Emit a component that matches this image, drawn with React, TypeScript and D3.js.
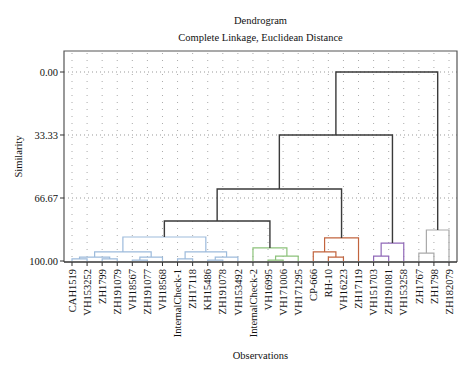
import React from "react";
import * as d3 from "d3";

const leaves = [
  "CAH1519", "VH153252", "ZH1799", "ZH191079", "VH18567", "ZH191077", "VH18568",
  "InternalCheck-1", "ZH17118", "KH15486", "ZH191078", "VH153492", "InternalCheck-2",
  "VH16995", "VH171006", "VH171295", "CP-666", "RH-10", "VH16223", "ZH17119",
  "VH151703", "ZH191081", "VH153258", "ZH1767", "ZH1798", "ZH182079",
];

// linkage: merge k creates node (leaves.length + k)
const linkLeft = [0, 2, 26, 4, 29, 28, 7, 9, 33, 32, 31, 13, 37, 12, 17, 16, 41, 20, 43, 23, 45, 36, 47, 48, 49];
const linkRight = [1, 3, 27, 5, 6, 30, 8, 10, 11, 34, 35, 14, 15, 38, 18, 40, 19, 21, 22, 24, 25, 39, 42, 44, 46];
const linkSimilarity = [98.9, 98.9, 97.9, 99.5, 97.9, 95.2, 98.9, 99.5, 97.9, 95.2, 87.3, 99.5, 97.4, 93.1, 97.9, 95.2, 87.8, 97.4, 90.5, 95.8, 83.6, 78.8, 61.9, 33.3, 0];
// cluster id of each merge (-1 = above cut)
const linkCluster = [0, 0, 0, 0, 0, 0, 0, 0, 0, 0, 0, 1, 1, 1, 2, 2, 2, 3, 3, 4, 4, -1, -1, -1, -1];

const yTicks = [0, 33.33, 66.67, 100];

const clusterColors = ["#9dbbdc", "#8cc27a", "#c2643e", "#9068b8", "#a9a9a9"];
const aboveColor = "#3a3a3a";

export default function App() {
  const W = 474, H = 375;
  const left = 64, right = 457, top = 51;
  const x = d3.scalePoint<number>().domain(leaves.map((_, i) => i)).range([72, 449]);
  const y = d3.scaleLinear().domain([0, 100]).range([72, 261]);
  const bottom = y(100) + 1;
  const n = leaves.length;

  const nodeX: number[] = leaves.map((_, i) => x(i) as number);
  const nodeH: number[] = leaves.map(() => 100);
  linkLeft.forEach((l, k) => {
    nodeX[n + k] = (nodeX[l] + nodeX[linkRight[k]]) / 2;
    nodeH[n + k] = linkSimilarity[k];
  });

  const paths = linkLeft.map((l, k) => {
    const r = linkRight[k];
    const p = d3.path();
    p.moveTo(nodeX[l], y(nodeH[l]));
    p.lineTo(nodeX[l], y(linkSimilarity[k]));
    p.lineTo(nodeX[r], y(linkSimilarity[k]));
    p.lineTo(nodeX[r], y(nodeH[r]));
    const c = linkCluster[k];
    return (
      <path
        key={k}
        d={p.toString()}
        fill="none"
        stroke={c < 0 ? aboveColor : clusterColors[c]}
        strokeWidth={c < 0 ? 1.4 : 1.2}
      />
    );
  });

  const font = "'Liberation Serif', 'DejaVu Serif', serif";
  const ink = "#111";

  return (
    <svg width={W} height={H} style={{ position: "absolute", left: 0, top: 0, background: "#fff" }} fontFamily={font}>
      <text x={260.5} y={24} textAnchor="middle" fontSize={10.5} fill={ink}>Dendrogram</text>
      <text x={260.5} y={41} textAnchor="middle" fontSize={10.5} fill={ink}>Complete Linkage, Euclidean Distance</text>

      {/* grid */}
      {leaves.map((_, i) => (
        <line key={"gv" + i} x1={x(i)} x2={x(i)} y1={top + 2} y2={bottom} stroke="#aaa" strokeWidth={1} strokeDasharray="1,6" />
      ))}
      {yTicks.slice(0, 3).map((t) => (
        <line key={"gh" + t} x1={left} x2={right} y1={y(t)} y2={y(t)} stroke="#999" strokeWidth={1} strokeDasharray="1,3" />
      ))}

      {/* frame */}
      <path d={`M${left},${bottom}V${top}H${right}V${bottom}`} fill="none" stroke="#555" strokeWidth={1.2} />
      <line x1={left} x2={right} y1={bottom} y2={bottom} stroke="#333" strokeWidth={1.5} />

      {paths}

      {/* y axis */}
      {yTicks.map((t) => (
        <g key={"yt" + t}>
          <line x1={left - 4} x2={left} y1={y(t)} y2={y(t)} stroke="#333" strokeWidth={1} />
          <text x={58} y={y(t)} dy="0.35em" textAnchor="end" fontSize={10.5} fill={ink}>{t.toFixed(2)}</text>
        </g>
      ))}
      <text transform={`translate(22,${(top + bottom) / 2}) rotate(-90)`} textAnchor="middle" fontSize={10.5} fill={ink}>Similarity</text>

      {/* x axis */}
      {leaves.map((name, i) => (
        <g key={"xt" + i}>
          <line x1={x(i)} x2={x(i)} y1={bottom} y2={bottom + 4} stroke="#333" strokeWidth={1} />
          <text transform={`translate(${x(i)},${bottom + 7}) rotate(-90)`} dy="0.35em" textAnchor="end" fontSize={10.5} fill={ink}>{name}</text>
        </g>
      ))}
      <text x={260.5} y={359} textAnchor="middle" fontSize={10.5} fill={ink}>Observations</text>
    </svg>
  );
}
